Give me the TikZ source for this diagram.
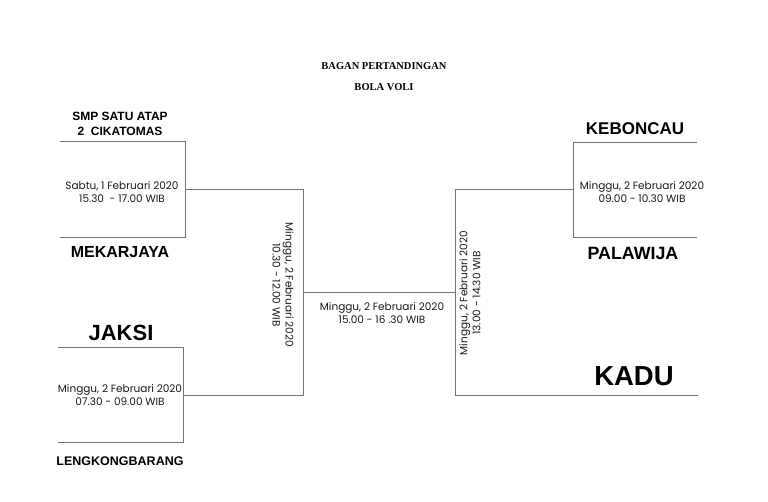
\documentclass[tikz,border=0pt]{standalone}
\usepackage{fontspec}
\setmainfont{Liberation Serif}
\newfontfamily\arialf{Liberation Sans}
\newfontfamily\gothf{Poppins}
\begin{document}
\begin{tikzpicture}[x=1pt,y=-1pt,
  ln/.style={draw=black!55,line width=0.9pt},
  team/.style={font=\arialf\bfseries,align=center,inner sep=0pt},
  dt/.style={font=\gothf\fontsize{10.5}{13}\selectfont,align=center,inner sep=0pt,text=black!90}]
\useasboundingbox (0,0) rectangle (768,501);
\node[font=\bfseries\fontsize{10.5}{12}\selectfont] (t1) at (384,66) {BAGAN PERTANDINGAN};
\node[font=\bfseries\fontsize{10.5}{12}\selectfont] (t2) at (384,87) {BOLA VOLI};
% coordinates
\coordinate (a1) at (60,141); \coordinate (a2) at (185,141);
\coordinate (a3) at (185,237); \coordinate (a4) at (60,237);
\coordinate (a5) at (185,189);
\coordinate (b1) at (58,347); \coordinate (b2) at (183,347);
\coordinate (b3) at (183,442); \coordinate (b4) at (58,442);
\coordinate (b5) at (183,395);
\coordinate (l1) at (303,189); \coordinate (l2) at (303,395); \coordinate (l3) at (303,292);
\coordinate (r1) at (455,189); \coordinate (r2) at (455,395); \coordinate (r3) at (455,292);
\coordinate (c1) at (697,142); \coordinate (c2) at (573,142);
\coordinate (c3) at (573,237); \coordinate (c4) at (697,237);
\coordinate (c5) at (573,189);
\coordinate (k1) at (698,395);
\draw[ln] (a1) -- (a2) -- (a3) -- (a4);
\draw[ln] (b1) -- (b2) -- (b3) -- (b4);
\draw[ln] (a5) -- (l1) -- (l2) -- (b5);
\draw[ln] (l3) -- (r3);
\draw[ln] (c1) -- (c2) -- (c3) -- (c4);
\draw[ln] (c5) -- (r1) -- (r2) -- (k1);
% teams
\node[team,font=\arialf\bfseries\fontsize{12}{15}\selectfont] (smp) at (120,124) {SMP SATU ATAP\\2\ \ CIKATOMAS};
\node[team,font=\arialf\bfseries\fontsize{16}{18}\selectfont] (mek) at (120,252) {MEKARJAYA};
\node[team,font=\arialf\bfseries\fontsize{22}{24}\selectfont] (jak) at (121,333) {JAKSI};
\node[team,font=\arialf\bfseries\fontsize{12.5}{14}\selectfont] (len) at (120,461) {LENGKONGBARANG};
\node[team,font=\arialf\bfseries\fontsize{17}{18}\selectfont] (keb) at (635,129) {KEBONCAU};
\node[team,font=\arialf\bfseries\fontsize{17.8}{19}\selectfont] (pal) at (633,253) {PALAWIJA};
\node[team,font=\arialf\bfseries\fontsize{27.5}{29}\selectfont] (kad) at (634,376) {KADU};
% dates
\node[dt] (d1) at (122,192) {Sabtu, 1 Februari 2020\\15.30\ \ - 17.00 WIB};
\node[dt] (d2) at (120,395) {Minggu, 2 Februari 2020\\07.30 - 09.00 WIB};
\node[dt,rotate=-90] (d3) at (283,285) {Minggu, 2 Februari 2020\\10.30 - 12.00 WIB};
\node[dt] (d4) at (382,313) {Minggu, 2 Februari 2020\\15.00 - 16 .30 WIB};
\node[dt,rotate=90] (d5) at (470,293) {Minggu, 2 Februari 2020\\13.00 - 14.30 WIB};
\node[dt] (d6) at (642,192) {Minggu, 2 Februari 2020\\09.00 - 10.30 WIB};
\end{tikzpicture}
\end{document}
